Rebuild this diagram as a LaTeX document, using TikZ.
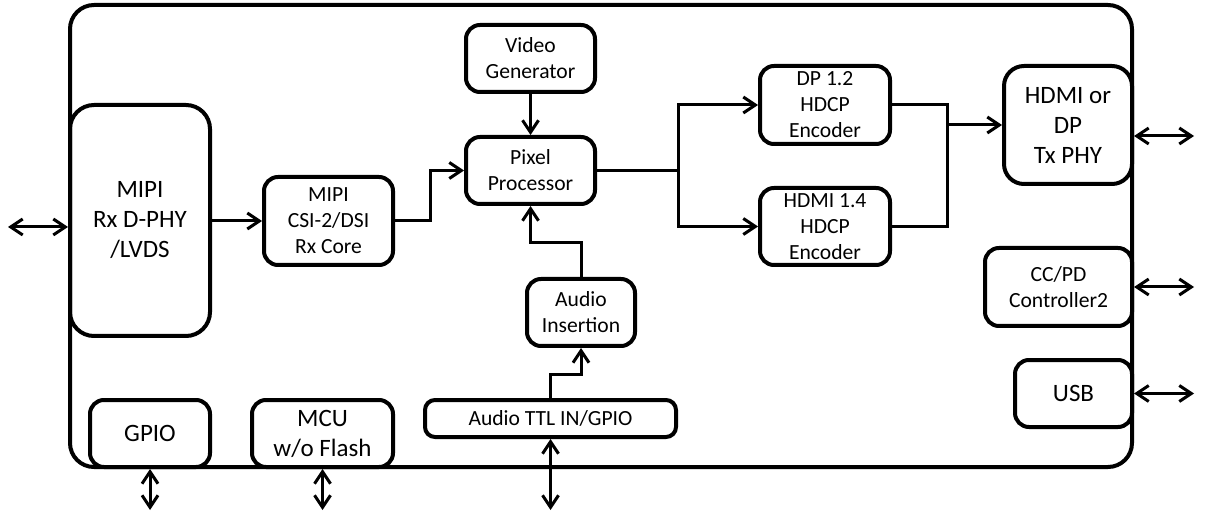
\documentclass[tikz,border=0pt]{standalone}
\usepackage{fontspec}
\setmainfont{Carlito}
\usetikzlibrary{arrows.meta}
\tikzset{
  blk/.style={draw,line width=2pt,rounded corners=7pt,align=center,inner sep=0pt,font=\fontsize{10.8}{13}\selectfont},
  bigblk/.style={blk,font=\fontsize{12.5}{15}\selectfont},
  link/.style={line width=1.5pt,-{Straight Barb[length=6pt,width=8pt]}},
  bilink/.style={line width=1.5pt,{Straight Barb[length=6pt,width=8pt]}-{Straight Barb[length=6pt,width=8pt]}}
}
\begin{document}
\begin{tikzpicture}[x=0.5pt,y=-0.5pt]
\useasboundingbox (0,0) rectangle (1205,513);
\draw[line width=2pt,rounded corners=12pt](70,5) rectangle (1132,467);

\node[bigblk,rounded corners=12pt,minimum width=70pt,minimum height=115.5pt] (mipi) at (140,220.5) {MIPI\\Rx D-PHY\\/LVDS};
\node[blk,minimum width=64.5pt,minimum height=44pt] (csi) at (328.5,221) {MIPI\\CSI-2/DSI\\Rx Core};
\node[blk,minimum width=64.5pt,minimum height=33.5pt] (vgen) at (530.5,58.5) {Video\\Generator};
\node[blk,minimum width=64.5pt,minimum height=33.5pt] (pix) at (530.5,170.5) {Pixel\\Processor};
\node[blk,minimum width=65pt,minimum height=39pt] (dpenc) at (825,105) {DP 1.2\\HDCP\\Encoder};
\node[blk,minimum width=65pt,minimum height=38.5pt] (hdmienc) at (825,226.5) {HDMI 1.4\\HDCP\\Encoder};
\node[bigblk,rounded corners=10pt,minimum width=64pt,minimum height=59pt] (phy) at (1068,125) {HDMI or\\DP\\Tx PHY};
\node[blk,minimum width=73.5pt,minimum height=39pt] (ccpd) at (1058.5,287) {CC/PD\\Controller2};
\node[bigblk,minimum width=58.5pt,minimum height=33.5pt] (usb) at (1073.5,393.5) {USB};
\node[blk,minimum width=54pt,minimum height=33.5pt] (ains) at (581,312.5) {Audio\\Insertion};
\node[blk,rounded corners=5pt,minimum width=125.5pt,minimum height=18.5pt] (attl) at (550.5,418.5) {Audio TTL IN/GPIO};
\node[bigblk,minimum width=60pt,minimum height=33.5pt] (gpio) at (150,433.5) {GPIO};
\node[bigblk,minimum width=70.5pt,minimum height=33.5pt] (mcu) at (322.5,433.5) {MCU\\w/o Flash};

\coordinate (lft) at (8,227);
\coordinate (sp) at (678,170.5);
\coordinate (mg) at (947,125);

\draw[bilink](lft) -- (lft -| mipi.west);
\draw[link](mipi.east |- csi.west) -- (csi.west);
\draw[link](csi.east) -- ++(35,0) |- (pix.west);
\draw[link](vgen.south) -- (pix.north);
\draw[line width=1.5pt](pix.east) -- (sp);
\draw[link](sp) |- (dpenc.west);
\draw[link](sp) |- (hdmienc.west);
\draw[line width=1.5pt](dpenc.east) -| (mg);
\draw[line width=1.5pt](hdmienc.east) -| (mg);
\draw[link](mg) -- (mg -| phy.west);
\draw[link](ains.north) -- ++(0,-34) -| (pix.south);
\draw[link](attl.north) -- ++(0,-24) -| (ains.south);

\draw[bilink]([yshift=-5.5pt]phy.east) -- ++(60,0);
\draw[bilink](ccpd.east) -- ++(60,0);
\draw[bilink](usb.east) -- ++(60,0);
\draw[bilink](gpio.south) -- ++(0,41);
\draw[bilink](mcu.south) -- ++(0,41);
\draw[bilink](attl.south) -- ++(0,71);
\end{tikzpicture}
\end{document}
